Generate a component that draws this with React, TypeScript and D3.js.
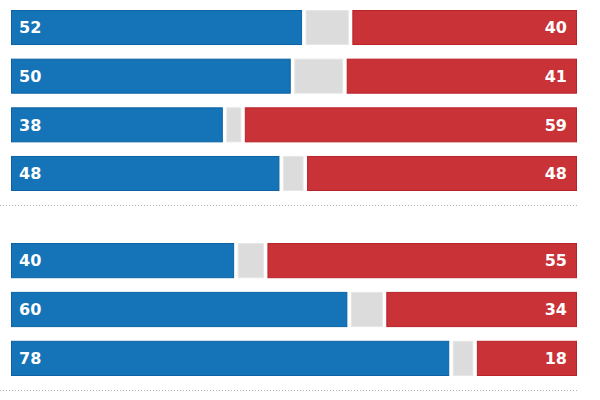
import { useEffect, useRef } from "react";
import * as d3 from "d3";

// values per row (percent): left = blue, right = red, rest = gray
const groupA_left = [52, 50, 38, 48];
const groupA_right = [40, 41, 59, 48];
const groupB_left = [40, 60, 78];
const groupB_right = [55, 34, 18];

const BLUE = "#1573b7";
const BLUE_EDGE = "#0e62a3";
const RED = "#c93236";
const RED_EDGE = "#b8232a";
const GRAY = "#dcdcdc";
const GRAY_EDGE = "#e6e6e6";

export default function App() {
  const svgRef = useRef<SVGSVGElement>(null);

  useEffect(() => {
    document.body.style.margin = "0";
    if (!svgRef.current) return;
    const svg = d3.select(svgRef.current);
    svg.selectAll("*").remove();

    const width = 600;
    const x = d3.scaleLinear().domain([0, 100]).range([11, 577]);
    const gap = 1.75;

    const groups = [
      { left: groupA_left, right: groupA_right, range: [10, 191] as [number, number] },
      { left: groupB_left, right: groupB_right, range: [243, 376] as [number, number] },
    ];

    groups.forEach((g) => {
      const rows = g.left.map((l, i) => ({ i, left: l, right: g.right[i] }));
      const y = d3
        .scaleBand<number>()
        .domain(rows.map((d) => d.i))
        .range(g.range)
        .paddingInner(0.28)
        .paddingOuter(0);

      const row = svg
        .append("g")
        .selectAll("g")
        .data(rows)
        .enter()
        .append("g")
        .attr("transform", (d) => `translate(0,${y(d.i)})`);

      const h = y.bandwidth();

      // blue segment
      row
        .append("rect")
        .attr("x", x(0) + 0.5)
        .attr("y", 0.5)
        .attr("width", (d) => x(d.left) - x(0) - gap - 2.5)
        .attr("height", h - 1)
        .attr("fill", BLUE)
        .attr("stroke", BLUE_EDGE);

      // gray segment
      row
        .append("rect")
        .attr("x", (d) => x(d.left) + gap - 1)
        .attr("y", 0.5)
        .attr("width", (d) => Math.max(0, x(100 - d.right) - x(d.left) - 2 * gap + 0.5))
        .attr("height", h - 1)
        .attr("fill", GRAY)
        .attr("stroke", GRAY_EDGE);

      // red segment
      row
        .append("rect")
        .attr("x", (d) => x(100 - d.right) + gap + 0.5)
        .attr("y", 0.5)
        .attr("width", (d) => x(100) - x(100 - d.right) - gap - 1)
        .attr("height", h - 1)
        .attr("fill", RED)
        .attr("stroke", RED_EDGE);

      row
        .append("text")
        .attr("x", x(0) + 8)
        .attr("y", h / 2)
        .attr("dy", "0.36em")
        .attr("fill", "#fff")
        .style("font-family", "'DejaVu Sans', sans-serif")
        .style("font-weight", "bold")
        .style("font-size", "16px")
        .text((d) => d.left);

      row
        .append("text")
        .attr("x", x(100) - 10)
        .attr("y", h / 2)
        .attr("dy", "0.36em")
        .attr("text-anchor", "end")
        .attr("fill", "#fff")
        .style("font-family", "'DejaVu Sans', sans-serif")
        .style("font-weight", "bold")
        .style("font-size", "16px")
        .text((d) => d.right);

      // dotted separator below the group
      svg
        .append("line")
        .attr("x1", 0)
        .attr("x2", 579)
        .attr("y1", g.range[1] + 14.5)
        .attr("y2", g.range[1] + 14.5)
        .attr("stroke", "#b5b5b5")
        .attr("stroke-width", 1)
        .attr("stroke-dasharray", "1,2");
    });

    svg.attr("width", width).attr("height", 400);
  }, []);

  return <svg ref={svgRef} width={600} height={400} style={{ display: "block" }} />;
}
